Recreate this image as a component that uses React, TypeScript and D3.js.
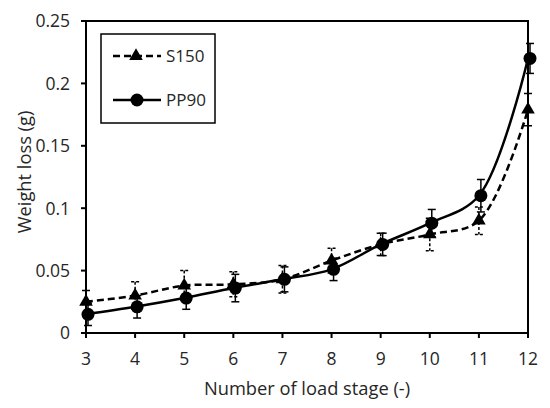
import React from "react";
import * as d3 from "d3";

const stages = [3, 4, 5, 6, 7, 8, 9, 10, 11, 12];
const s150 = [0.025, 0.03, 0.038, 0.039, 0.043, 0.058, 0.071, 0.079, 0.09, 0.179];
const s150Err = [0.009, 0.011, 0.012, 0.01, 0.011, 0.01, 0.009, 0.013, 0.011, 0.013];
const pp90 = [0.015, 0.021, 0.028, 0.036, 0.043, 0.051, 0.071, 0.088, 0.11, 0.22];
const pp90Err = [0.009, 0.009, 0.009, 0.011, 0.01, 0.009, 0.009, 0.011, 0.013, 0.012];
const yTicks = [0, 0.05, 0.1, 0.15, 0.2, 0.25];
const xTicks = [3, 4, 5, 6, 7, 8, 9, 10, 11, 12];
const seriesNames = ["S150", "PP90"];

const W = 550, H = 408;
const L = 86, R = 528, T = 21, B = 333;
const FONT = "'Open Sans', 'Noto Sans', sans-serif";
const TXT = "#262626";

export default function App() {
  const x = d3.scaleLinear().domain([3, 12]).range([L, R]);
  const y = d3.scaleLinear().domain([0, 0.25]).range([B, T]);
  const line = d3
    .line<[number, number]>()
    .x((d) => x(d[0]))
    .y((d) => y(d[1]))
    .curve(d3.curveCatmullRom.alpha(0.5));
  const sPts: [number, number][] = stages.map((s, i) => [s, s150[i]]);
  const pPts: [number, number][] = stages.map((s, i) => [s, pp90[i]]);
  const tri = d3.symbol().type(d3.symbolTriangle).size(80)();
  const fmt = (v: number) => (v === 0 ? "0" : String(+v.toFixed(2)));

  return (
    <svg width={W} height={H} style={{ display: "block", position: "absolute", left: 0, top: 0 }}>
      <rect x={0} y={0} width={W} height={H} fill="#fff" />
      {/* error bars S150 (dashed) */}
      {stages.map((s, i) => {
        const cx = x(s);
        const y1 = y(s150[i] + s150Err[i]);
        const y2 = y(s150[i] - s150Err[i]);
        return (
          <g key={"se" + i} stroke="#000" strokeWidth={1.5} strokeDasharray="3,2">
            <line x1={cx} x2={cx} y1={y1} y2={y2} />
            <line x1={cx - 4} x2={cx + 4} y1={y1} y2={y1} />
            <line x1={cx - 4} x2={cx + 4} y1={y2} y2={y2} />
          </g>
        );
      })}
      {/* error bars PP90 */}
      {stages.map((s, i) => {
        const cx = x(s) + 2;
        const y1 = y(pp90[i] + pp90Err[i]);
        const y2 = y(pp90[i] - pp90Err[i]);
        return (
          <g key={"pe" + i} stroke="#000" strokeWidth={1.5}>
            <line x1={cx} x2={cx} y1={y1} y2={y2} />
            <line x1={cx - 4} x2={cx + 4} y1={y1} y2={y1} />
            <line x1={cx - 4} x2={cx + 4} y1={y2} y2={y2} />
          </g>
        );
      })}
      <path d={line(sPts) || ""} fill="none" stroke="#000" strokeWidth={2.5} strokeDasharray="7,4" />
      <path d={line(pPts) || ""} fill="none" stroke="#000" strokeWidth={2.5} />
      {sPts.map((p, i) => (
        <path key={"st" + i} d={tri || ""} transform={`translate(${x(p[0])},${y(p[1])})`} fill="#000" />
      ))}
      {pPts.map((p, i) => (
        <circle key={"pc" + i} cx={x(p[0]) + 2} cy={y(p[1])} r={6.5} fill="#000" />
      ))}
      {/* frame */}
      <rect x={L} y={T} width={R - L} height={B - T} fill="none" stroke="#000" strokeWidth={2} />
      {/* y ticks */}
      {yTicks.map((t) => (
        <g key={"yt" + t}>
          <line x1={L - 5} x2={L} y1={y(t)} y2={y(t)} stroke="#000" strokeWidth={2} />
          <text x={L - 16} y={y(t)} dy="0.36em" textAnchor="end" fontSize={17.5} fontFamily={FONT} fill={TXT}>
            {fmt(t)}
          </text>
        </g>
      ))}
      {xTicks.map((t) => (
        <g key={"xt" + t}>
          <line x1={x(t)} x2={x(t)} y1={B} y2={B + 5} stroke="#000" strokeWidth={2} />
          <text x={x(t)} y={365} textAnchor="middle" fontSize={17.5} fontFamily={FONT} fill={TXT}>
            {t}
          </text>
        </g>
      ))}
      <text x={307} y={395} textAnchor="middle" fontSize={18.3} fontFamily={FONT} fill={TXT}>
        Number of load stage (-)
      </text>
      <text
        transform={`translate(31,172) rotate(-90)`}
        textAnchor="middle"
        fontSize={18.3}
        fontFamily={FONT}
        fill={TXT}
      >
        Weight loss (g)
      </text>
      {/* legend */}
      <rect x={101} y={34} width={114} height={89} fill="#fff" stroke="#000" strokeWidth={1.5} />
      <line x1={113} x2={161} y1={56} y2={56} stroke="#000" strokeWidth={2.5} strokeDasharray="7,4" />
      <path d={tri || ""} transform="translate(136,56)" fill="#000" />
      <text x={166} y={56} dy="0.36em" fontSize={17} fontFamily={FONT} fill={TXT}>
        {seriesNames[0]}
      </text>
      <line x1={113} x2={161} y1={100} y2={100} stroke="#000" strokeWidth={2.5} />
      <circle cx={137} cy={100} r={6.5} fill="#000" />
      <text x={166} y={100} dy="0.36em" fontSize={17} fontFamily={FONT} fill={TXT}>
        {seriesNames[1]}
      </text>
    </svg>
  );
}
